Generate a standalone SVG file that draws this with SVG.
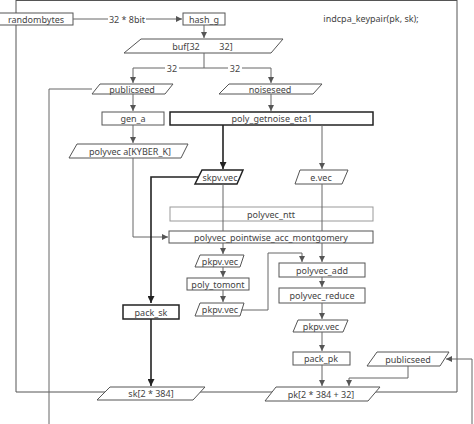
<svg xmlns="http://www.w3.org/2000/svg" width="474" height="424" viewBox="0 0 474 424">
<defs>
<marker id="ah" viewBox="0 0 8 8" refX="8" refY="4" markerWidth="6" markerHeight="6" markerUnits="userSpaceOnUse" orient="auto"><path d="M0,0 L8,4 L0,8 Z" fill="#555"/></marker>
<marker id="ahd" viewBox="0 0 8 8" refX="8" refY="4" markerWidth="7" markerHeight="7" markerUnits="userSpaceOnUse" orient="auto"><path d="M0,0 L8,4 L0,8 Z" fill="#222"/></marker>
</defs>
<style>
text{font-family:"Noto Sans","DejaVu Sans",sans-serif;font-size:9px;fill:#444;text-anchor:middle;dominant-baseline:central}
.b{fill:#fff;stroke:#555;stroke-width:1}
.bk{fill:#fff;stroke:#222;stroke-width:1.5}
.bl{fill:#fff;stroke:#999;stroke-width:1}
.c{fill:none;stroke:#666;stroke-width:1}
.ca{fill:none;stroke:#666;stroke-width:1;marker-end:url(#ah)}
.cd{fill:none;stroke:#222;stroke-width:1.6;marker-end:url(#ahd)}
.fr{fill:none;stroke:#555;stroke-width:1}
</style>
<rect width="474" height="424" fill="#fff"/>
<g id="frame"><path class="fr" d="M16,0 V392 H457 V0"/><line class="fr" x1="16" y1="0.5" x2="457" y2="0.5"/></g>
<text x="371" y="18">indcpa_keypair(pk, sk);</text>
<g id="randombytes"><rect class="b" x="-1" y="13" width="74" height="12"/><text x="36" y="19">randombytes</text></g>
<g id="hash_g"><rect class="b" x="183" y="13" width="42" height="12"/><text x="204" y="19">hash_g</text></g>
<g id="buf"><path class="b" d="M141,39 H283 L271,53 H124 Z"/><text x="186" y="46">buf[32</text><text x="226" y="46">32]</text></g>
<g id="publicseed"><path class="b" d="M100,84 H173 L165,94 H92 Z"/><text x="132" y="89">publicseed</text></g>
<g id="noiseseed"><path class="b" d="M229,84 H322 L313,94 H219 Z"/><text x="270" y="89">noiseseed</text></g>
<g id="gen_a"><rect class="b" x="102" y="112" width="62" height="13"/><text x="133" y="118.5">gen_a</text></g>
<g id="poly_getnoise"><rect class="bk" x="170" y="112" width="203" height="13"/><text x="272" y="118.5">poly_getnoise_eta1</text></g>
<g id="polyvec_a"><path class="b" d="M77,144 H188 L181,158 H69 Z"/><text x="130" y="151">polyvec a[KYBER_K]</text></g>
<g id="skpv"><path class="bk" d="M202,170 H243 L237,184 H195 Z"/><text x="220" y="177">skpv.vec</text></g>
<g id="evec"><path class="b" d="M300,170 H348 L342,184 H295 Z"/><text x="321" y="177">e.vec</text></g>
<g id="polyvec_ntt"><rect class="bl" x="170" y="207" width="203" height="14"/><text x="271" y="214">polyvec_ntt</text></g>
<g id="pointwise"><rect class="b" x="169" y="231" width="204" height="12"/><text x="271" y="237">polyvec_pointwise_acc_montgomery</text></g>
<g id="pkpv1"><path class="b" d="M200,255 H244 L240,267 H195 Z"/><text x="220" y="261">pkpv.vec</text></g>
<g id="poly_tomont"><rect class="b" x="187" y="278" width="62" height="12"/><text x="218" y="284">poly_tomont</text></g>
<g id="pkpv2"><path class="b" d="M200,303 H244 L240,316 H195 Z"/><text x="220" y="309.5">pkpv.vec</text></g>
<g id="polyvec_add"><rect class="b" x="279" y="263" width="86" height="14"/><text x="322" y="270">polyvec_add</text></g>
<g id="polyvec_reduce"><rect class="b" x="279" y="288" width="86" height="15"/><text x="322" y="295.5">polyvec_reduce</text></g>
<g id="pkpv3"><path class="b" d="M298,320 H348 L343,332 H293 Z"/><text x="321" y="326">pkpv.vec</text></g>
<g id="pack_pk"><rect class="b" x="293" y="352" width="57" height="13"/><text x="321" y="358.5">pack_pk</text></g>
<g id="publicseed2"><path class="b" d="M377,352 H449 L440,366 H367 Z"/><text x="408" y="359">publicseed</text></g>
<g id="pack_sk"><rect class="bk" x="123" y="305" width="56" height="14"/><text x="151" y="312">pack_sk</text></g>
<g id="sk"><path class="b" d="M110,387 H205 L193,400 H97 Z"/><text x="151" y="393.5">sk[2 * 384]</text></g>
<g id="pk"><path class="b" d="M276,387 H380 L368,401 H265 Z"/><text x="321" y="394">pk[2 * 384 + 32]</text></g>
<g id="connectors">
<path class="ca" d="M73,19 H182"/>
<path class="ca" d="M204,25 V38"/>
<path class="c" d="M204,53 V68"/>
<path class="ca" d="M204,68 H133 V83"/>
<path class="ca" d="M204,68 H271 V83"/>
<path class="c" d="M92,89 H49 V424"/>
<path class="ca" d="M472,424 V359 H446"/>
<path class="ca" d="M133,94 V111"/>
<path class="ca" d="M271,94 V111"/>
<path class="ca" d="M133,125 V143"/>
<path class="ca" d="M133,158 V237 H168"/>
<path class="cd" d="M223,125 V169"/>
<path class="ca" d="M322,125 V169"/>
<path class="cd" d="M199,177 H151 V303"/>
<path class="cd" d="M151,319 V386"/>
<path class="c" d="M223,184 V231"/>
<path class="c" d="M322,184 V231"/>
<path class="ca" d="M322,243 V262"/>
<path class="ca" d="M223,243 V254"/>
<path class="ca" d="M223,267 V277"/>
<path class="ca" d="M223,290 V302"/>
<path class="ca" d="M241,310 H268 V253 H302 V262"/>
<path class="ca" d="M322,277 V287"/>
<path class="ca" d="M322,303 V319"/>
<path class="ca" d="M322,332 V351"/>
<path class="ca" d="M322,365 V386"/>
<path class="ca" d="M408,366 V378 H349 V386"/>
</g>
<g id="lbl32a"><rect x="165" y="64" width="14" height="8" fill="#fff"/><text x="172" y="68">32</text></g>
<g id="lbl32b"><rect x="228" y="64" width="14" height="8" fill="#fff"/><text x="235" y="68">32</text></g>
<g id="lbl8bit"><rect x="108" y="14" width="38" height="10" fill="#fff"/><text x="127" y="19">32 * 8bit</text></g>
</svg>
